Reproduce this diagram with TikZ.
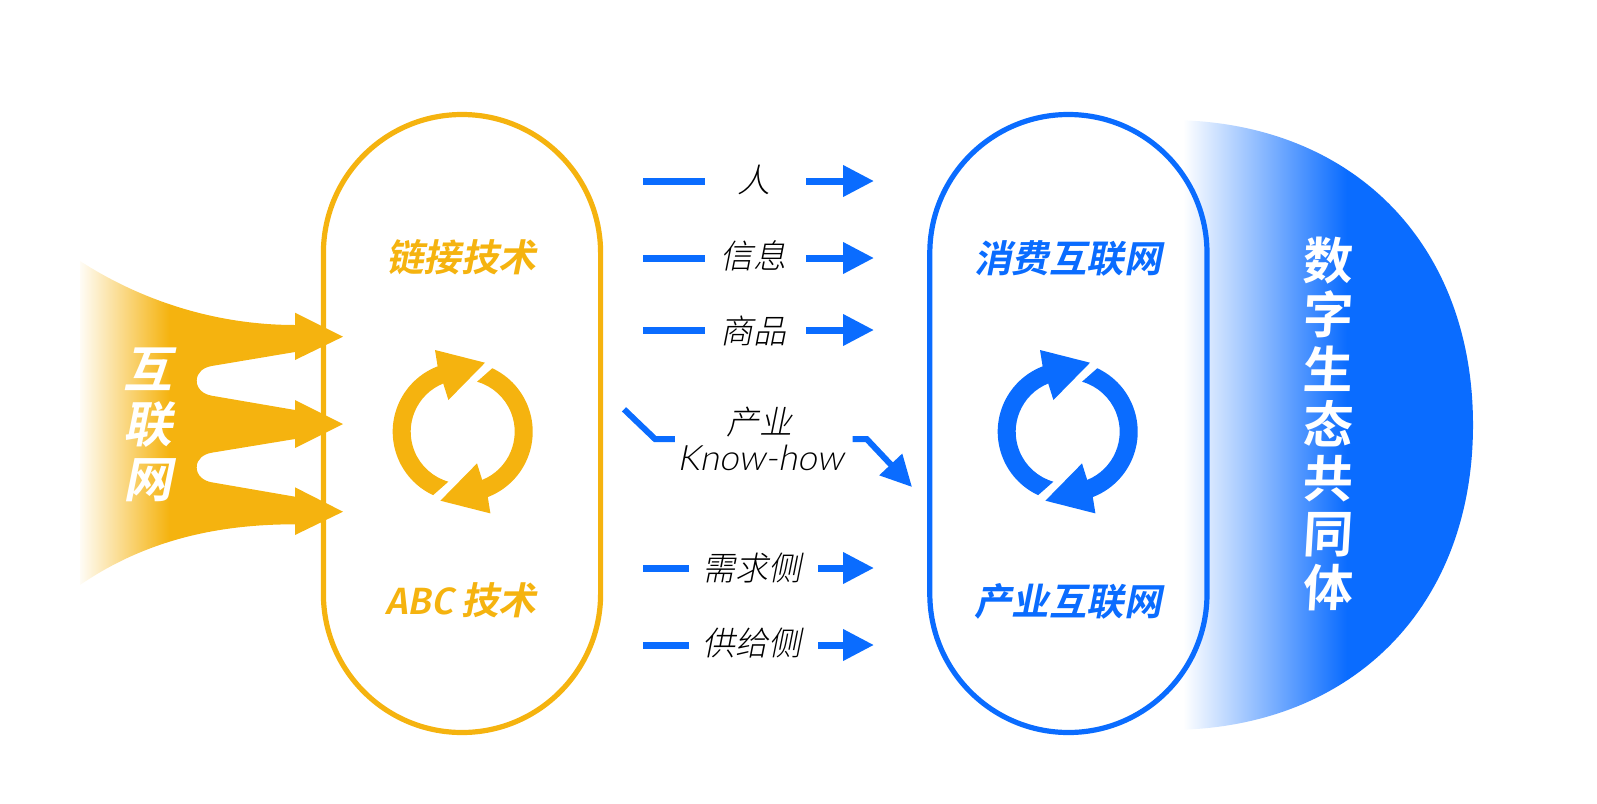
\documentclass[tikz,border=0pt]{standalone}
\usepackage{fontspec}
\usetikzlibrary{arrows.meta, positioning}
\newfontfamily\cjklight[FakeSlant=0.2]{Noto Sans CJK SC Light}
\newfontfamily\cjkbold[FakeSlant=0.2]{Noto Sans CJK SC Bold}
\newfontfamily\cjkplain[FakeSlant=0.06]{Noto Sans CJK SC Bold}
\newfontfamily\latinlight[FakeSlant=0.2]{Lato Light}
\newfontfamily\latinbold[FakeSlant=0.2]{Fira Sans Medium}
\definecolor{pillorange}{HTML}{F5B30F}
\definecolor{flowblue}{HTML}{0A6CFF}
\pgfdeclarehorizontalshading{moonfade}{100bp}{color(0bp)=(white); color(27.5bp)=(white); color(54.3bp)=(flowblue); color(100bp)=(flowblue)}
\pgfdeclarehorizontalshading{fanfade}{100bp}{color(0bp)=(pillorange!4); color(25bp)=(pillorange!4); color(42bp)=(pillorange); color(100bp)=(pillorange)}
\tikzset{
  pill/.style={draw, line width=5.2pt, minimum width=277.2pt, minimum height=618pt, rounded corners=138.6pt, inner sep=0pt, outer sep=0pt},
  title/.style={inner sep=0pt, font=\cjkbold\fontsize{37.5}{40}\selectfont},
  flowlabel/.style={inner sep=0pt, outer sep=0pt, font=\cjklight\fontsize{33}{36}\selectfont},
  flowrow/.style={flowlabel, text height=28pt, text depth=#1, execute at end node=\kern4pt},
  flowline/.style={line width=7pt, flowblue},
  flowarrow/.style={flowline, -{Triangle[length=31pt, width=30pt]}},
  cyclearrow/.pic={
    \fill (245:70) arc[start angle=245, end angle=111, radius=70pt] -- (-27.7,81.7) -- (22.3,69) -- (-14.3,31.7) -- (112:52) arc[start angle=112, end angle=254, radius=52pt] -- cycle;
    \fill[rotate=180] (245:70) arc[start angle=245, end angle=111, radius=70pt] -- (-27.7,81.7) -- (22.3,69) -- (-14.3,31.7) -- (112:52) arc[start angle=112, end angle=254, radius=52pt] -- cycle;
  }
}
\begin{document}
\begin{tikzpicture}[x=1pt, y=1pt]
    \useasboundingbox (0,0) rectangle (1597,-803);

    % Half moon
    \shade[shading=moonfade] (1168,-120) .. controls (1351,-120) and (1473,-242) .. (1473,-425) .. controls (1473,-608) and (1351,-730) .. (1168,-730) -- cycle;
    \node[inner sep=0pt, align=center, text=white, font=\cjkplain\fontsize{50}{54.6}\selectfont] (moontext) at (1327,-424) {数\\字\\生\\态\\共\\同\\体};

    % Pills
    \node[pill, draw=pillorange] (leftpill) at (462,-423.5) {};
    \node[pill, draw=flowblue] (rightpill) at (1068.4,-423.5) {};

    % Fan
    \shade[shading=fanfade] (80,-261) .. controls (145,-303) and (220,-325) .. (295,-325)
      -- (295,-312.7) -- (343,-336.7) -- (295,-360) -- (295,-352) -- (211.7,-366)
      .. controls (203.5,-367.4) and (196.7,-372.4) .. (196.7,-380.7) .. controls (196.7,-389) and (203.5,-394.3) .. (211.7,-395.7)
      -- (295,-410) -- (295,-400) -- (343,-424) -- (295,-448) -- (295,-439) -- (211.7,-452.7)
      .. controls (203.5,-454.1) and (196.7,-459) .. (196.7,-467.3) .. controls (196.7,-475.6) and (203.5,-480.9) .. (211.7,-482.3)
      -- (295,-496.7) -- (295,-487.3) -- (343,-511.7) -- (295,-535) -- (295,-524.3)
      .. controls (225,-524.3) and (150,-537) .. (80,-585) -- cycle;
    \node[inner sep=0pt, align=center, text=white, font=\cjkbold\fontsize{49}{55}\selectfont] (fantext) at (148,-425) {互\\联\\网};

    % Titles
    \node[title, text=pillorange] (linktech) at (461,-257) {链接技术};
    \node[title, text=pillorange] (abctech) at (461,-600) {{\latinbold\fontsize{38}{40}\selectfont ABC} 技术};
    \node[title, text=flowblue] (consumer) at (1068,-258) {消费互联网};
    \node[title, text=flowblue] (industry) at (1068,-601) {产业互联网};

    % Cycles
    \pic[color=pillorange] at (462.7,-431.7) {cyclearrow};
    \pic[color=flowblue] at (1067.7,-431.7) {cyclearrow};

    % Upper rows
    \node[flowrow=5pt, minimum width=101pt] (people) at (755.5,-181) {人};
    \node[flowrow=7pt, minimum width=101pt] (info) at (755.5,-258) {信息};
    \node[flowrow=1pt, minimum width=101pt] (goods) at (755.5,-330) {商品};
    \coordinate (peopleL) at (643,-181);
    \coordinate (peopleR) at (874,-181);
    \coordinate (infoL) at (643,-258);
    \coordinate (infoR) at (874,-258);
    \coordinate (goodsL) at (643,-330);
    \coordinate (goodsR) at (874,-330);
    \draw[flowline] (peopleL) -- (people);
    \draw[flowarrow] (people) -- (peopleR);
    \draw[flowline] (infoL) -- (info);
    \draw[flowarrow] (info) -- (infoR);
    \draw[flowline] (goodsL) -- (goods);
    \draw[flowarrow] (goods) -- (goodsR);

    % Know-how
    \node[flowlabel, minimum width=177.7pt, align=center] (knowhow) at (763.8,-439) {产业\kern8pt\\{\latinlight\fontsize{35}{36}\selectfont Know-how}\kern7pt};
    \coordinate (knowL) at (624,-409.3);
    \coordinate (knowLc) at (655,-439);
    \coordinate (knowRc) at (866.7,-439);
    \coordinate (knowR) at (912,-487);
    \draw[flowline, line width=6pt] (knowL) -- (knowLc) -- (knowhow);
    \draw[flowarrow, line width=6pt] (knowhow) -- (knowRc) -- (knowR);

    % Lower rows
    \node[flowrow=3pt, minimum width=129pt] (demand) at (753.5,-568) {需求侧};
    \node[flowrow=7pt, minimum width=129pt] (supply) at (753.5,-645) {供给侧};
    \coordinate (demandL) at (643,-568);
    \coordinate (demandR) at (874,-568);
    \coordinate (supplyL) at (643,-645);
    \coordinate (supplyR) at (874,-645);
    \draw[flowline] (demandL) -- (demand);
    \draw[flowarrow] (demand) -- (demandR);
    \draw[flowline] (supplyL) -- (supply);
    \draw[flowarrow] (supply) -- (supplyR);
\end{tikzpicture}
\end{document}
